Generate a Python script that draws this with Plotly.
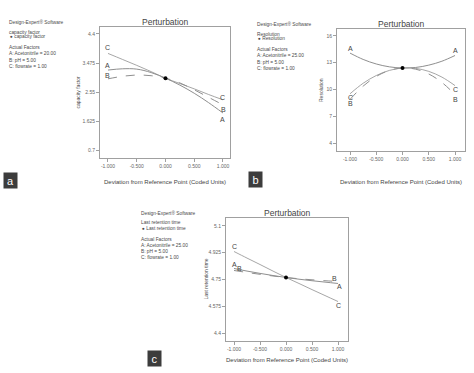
import plotly.graph_objects as go

W, H = 474, 373

# ---------------- data ----------------
x_pts = [-1.0, -0.75, -0.5, -0.25, 0.0, 0.25, 0.5, 0.75, 1.0]
x_ticks = [-1.0, -0.5, 0.0, 0.5, 1.0]
x_tick_labels = ["-1.000", "-0.500", "0.000", "0.500", "1.000"]

# panel a : capacity factor
a_A = [3.25, 3.29, 3.28, 3.17, 2.99, 2.77, 2.51, 2.21, 1.88]
a_B = [2.97, 3.05, 3.09, 3.07, 2.99, 2.84, 2.62, 2.38, 2.14]
a_C = [3.78, 3.59, 3.40, 3.20, 2.99, 2.82, 2.65, 2.47, 2.30]
a_center = 2.99
a_yticks = [4.4, 3.475, 2.55, 1.625, 0.7]
a_ytick_labels = ["4.4", "3.475", "2.55", "1.625", "0.7"]

# panel b : resolution
b_A = [14.08, 13.37, 12.86, 12.54, 12.41, 12.47, 12.73, 13.17, 13.81]
b_B = [8.89, 10.38, 11.46, 12.14, 12.41, 12.28, 11.74, 10.79, 9.44]
b_C = [9.52, 10.70, 11.57, 12.14, 12.41, 12.37, 12.03, 11.39, 10.44]
b_center = 12.41
b_yticks = [16, 13, 10, 7, 4]
b_ytick_labels = ["16", "13", "10", "7", "4"]

# panel c : last retention time
c_A = [4.822, 4.805, 4.790, 4.776, 4.763, 4.752, 4.742, 4.733, 4.724]
c_B = [4.809, 4.796, 4.784, 4.773, 4.763, 4.755, 4.748, 4.742, 4.737]
c_C = [4.933, 4.890, 4.848, 4.805, 4.763, 4.724, 4.684, 4.645, 4.606]
c_center = 4.763
c_yticks = [5.1, 4.925, 4.75, 4.575, 4.4]
c_ytick_labels = ["5.1", "4.925", "4.75", "4.575", "4.4"]

FONT = "Liberation Sans, Arial, sans-serif"
LINE_COL = "#8f8f8f"
TXT = "#4a4a4a"

fig = go.Figure()
annotations = []


def px_x(p):
    return p / W


def px_y(p):
    return 1 - p / H


def add_text(x, y, text, size=6, anchor="left", color=TXT, angle=0):
    annotations.append(dict(
        x=px_x(x), y=px_y(y), xref="paper", yref="paper", text=text,
        showarrow=False, xanchor=anchor, yanchor="middle", textangle=angle,
        font=dict(family=FONT, size=size, color=color)))


def add_panel(idx, box, xr, yr, yticks, yticklabels, A, B, C, center,
              lab_shift, left_lines, ytitle, ytitle_x, letter, letter_box, xtitle_y):
    ax = "" if idx == 1 else str(idx)
    xa, ya = "x" + ax, "y" + ax
    l, r, t, b = box
    styles = {"A": dict(dash="solid", width=1.0),
              "B": dict(dash="dash", width=1.0),
              "C": dict(dash="solid", width=0.8)}
    series = {"A": A, "B": B, "C": C}
    for name in ["A", "B", "C"]:
        fig.add_trace(go.Scatter(
            x=x_pts, y=series[name], mode="lines", xaxis=xa, yaxis=ya,
            line=dict(color=LINE_COL, shape="spline", **styles[name]),
            showlegend=False, hoverinfo="skip"))
    fig.add_trace(go.Scatter(x=[0.0], y=[center], mode="markers", xaxis=xa, yaxis=ya,
                             marker=dict(color="black", size=4), showlegend=False))
    axis_common = dict(showline=True, linecolor="#a0a0a0", linewidth=1, mirror=True,
                       showgrid=False, zeroline=False, ticks="outside", ticklen=3,
                       tickcolor="#a0a0a0", tickfont=dict(family=FONT, size=5, color="#666"))
    fig.update_layout(**{
        "xaxis" + ax: dict(domain=[px_x(l), px_x(r)], range=xr, anchor=ya,
                           tickvals=x_ticks, ticktext=x_tick_labels, **axis_common),
        "yaxis" + ax: dict(domain=[px_y(b), px_y(t)], range=yr, anchor=xa,
                           tickvals=yticks, ticktext=yticklabels, **axis_common),
    })
    for name in ["A", "B", "C"]:
        ys = series[name]
        (lx, ly), (rx, ry) = lab_shift[name]
        annotations.append(dict(x=x_pts[0], y=ys[0], xref=xa, yref=ya, text=name,
                                showarrow=False, xshift=lx, yshift=ly,
                                font=dict(family=FONT, size=7, color="#444")))
        annotations.append(dict(x=x_pts[-1], y=ys[-1], xref=xa, yref=ya, text=name,
                                showarrow=False, xshift=rx, yshift=ry,
                                font=dict(family=FONT, size=7, color="#444")))
    add_text((l + r) / 2, t - 5, "Perturbation", size=8.5, anchor="center", color="#444")
    add_text((l + r) / 2, xtitle_y, "Deviation from Reference Point (Coded Units)",
             size=6, anchor="center", color="#444")
    add_text(ytitle_x, (t + b) / 2, ytitle, size=5, anchor="center", angle=-90)
    for (x, y, s) in left_lines:
        add_text(x, y, s, size=4.8)
    bx, by = letter_box
    annotations.append(dict(x=px_x(bx), y=px_y(by), xref="paper", yref="paper",
                            text=letter, showarrow=False, bgcolor="#3c3c3c",
                            width=11, height=13, xanchor="center", yanchor="middle",
                            font=dict(family=FONT, size=11, color="white")))


def left_block(x0, y0, resp, acn):
    return [
        (x0, y0, "Design-Expert® Software"),
        (x0, y0 + 10, resp),
        (x0 + 1, y0 + 15, "● " + resp),
        (x0, y0 + 26, "Actual Factors"),
        (x0, y0 + 32, "A: Acetonitrile = " + acn),
        (x0, y0 + 38, "B: pH = 5.00"),
        (x0, y0 + 44, "C: flowrate = 1.00"),
    ]


lab_a = {"A": ((0, 5), (0, -6)), "B": ((0, 3), (1, -5)), "C": ((0, 6), (0, 2))}
add_panel(1, (100, 230, 27, 158), [-1.139, 1.122], [0.445, 4.623],
          a_yticks, a_ytick_labels, a_A, a_B, a_C, a_center, lab_a,
          left_block(7, 22, "capacity factor", "20.00"), "capacity factor", 77,
          "a", (10, 180), 182)

lab_b = {"A": ((0, 5), (0, 5)), "B": ((0, -4), (0, -5)), "C": ((0, -4), (0, -4))}
add_panel(2, (337, 465, 29, 151), [-1.248, 1.19], [3.11, 16.78],
          b_yticks, b_ytick_labels, b_A, b_B, b_C, b_center, lab_b,
          left_block(255, 24, "Resolution", "25.00"), "Resolution", 321,
          "b", (256, 179), 182)

lab_c = {"A": ((0, 4), (1, -3)), "B": ((5, 2), (-4, 3)), "C": ((0, 5), (0, -4))}
add_panel(3, (226, 348, 218, 341), [-1.154, 1.192], [4.348, 5.152],
          c_yticks, c_ytick_labels, c_A, c_B, c_C, c_center, lab_c,
          left_block(139, 213, "Last retention time", "25.00"), "Last retention time", 205,
          "c", (154, 358), 360)

fig.update_layout(width=W, height=H, margin=dict(l=0, r=0, t=0, b=0),
                  paper_bgcolor="white", plot_bgcolor="white",
                  annotations=annotations, showlegend=False)

fig.write_html("out.html", config={"displayModeBar": False},
               post_script="document.body.style.margin='0';document.body.style.overflow='hidden';")
